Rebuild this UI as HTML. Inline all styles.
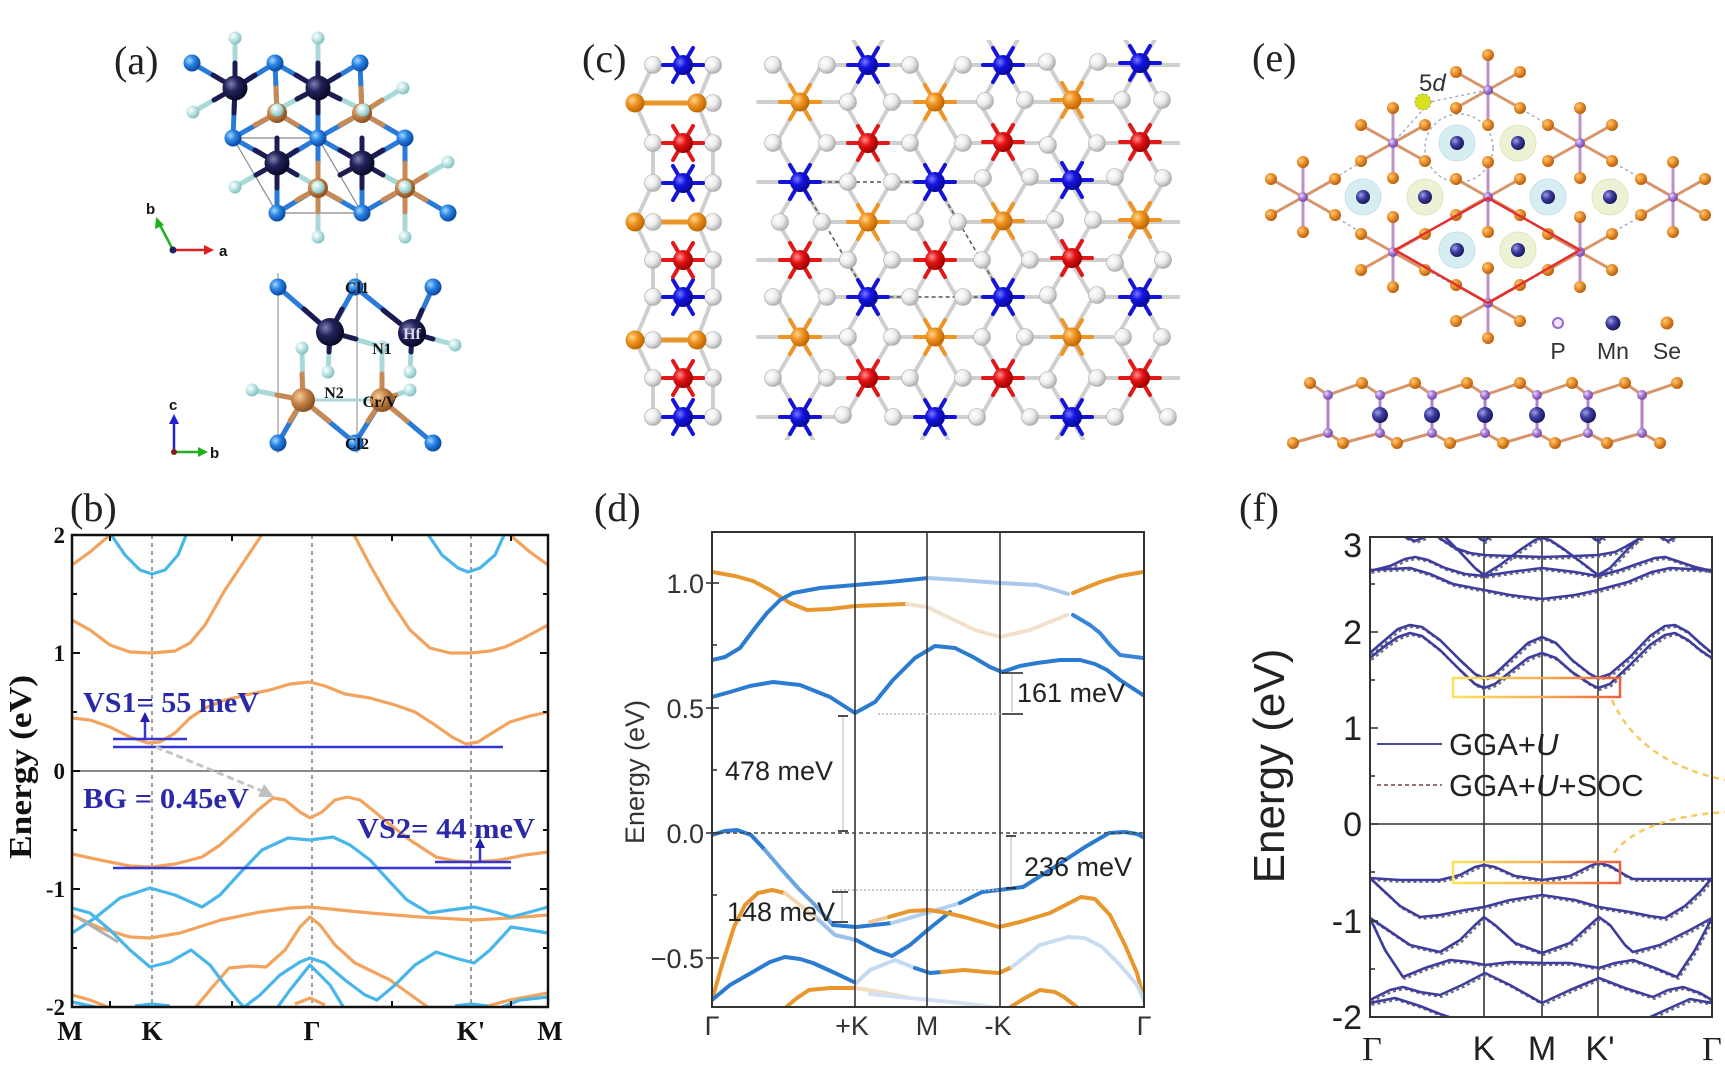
<!DOCTYPE html>
<html><head><meta charset="utf-8"><style>
html,body{margin:0;padding:0;background:#fff;}
svg{display:block;}
.serif{font-family:"Liberation Serif",serif;}
.sans{font-family:"Liberation Sans",sans-serif;}
</style></head><body>
<svg width="1725" height="1081" viewBox="0 0 1725 1081" xmlns="http://www.w3.org/2000/svg" xmlns:xlink="http://www.w3.org/1999/xlink">
<defs>
<radialGradient id="gCl" cx="35%" cy="35%" r="65%"><stop offset="0" stop-color="#a8d8ff"/><stop offset="0.45" stop-color="#2a86e6"/><stop offset="1" stop-color="#0b4aa0"/></radialGradient>
<radialGradient id="gHf" cx="35%" cy="35%" r="65%"><stop offset="0" stop-color="#8080b0"/><stop offset="0.45" stop-color="#22225a"/><stop offset="1" stop-color="#0a0a28"/></radialGradient>
<radialGradient id="gCu" cx="35%" cy="35%" r="65%"><stop offset="0" stop-color="#f6cfa0"/><stop offset="0.5" stop-color="#c6834a"/><stop offset="1" stop-color="#8a5424"/></radialGradient>
<radialGradient id="gN" cx="35%" cy="35%" r="65%"><stop offset="0" stop-color="#ffffff"/><stop offset="0.5" stop-color="#c2e6e6"/><stop offset="1" stop-color="#86c2c2"/></radialGradient>
<radialGradient id="gB" cx="35%" cy="35%" r="65%"><stop offset="0" stop-color="#7a7aff"/><stop offset="0.45" stop-color="#1414e0"/><stop offset="1" stop-color="#08089a"/></radialGradient>
<radialGradient id="gR" cx="35%" cy="35%" r="65%"><stop offset="0" stop-color="#ff9090"/><stop offset="0.45" stop-color="#e41414"/><stop offset="1" stop-color="#a00000"/></radialGradient>
<radialGradient id="gO" cx="35%" cy="35%" r="65%"><stop offset="0" stop-color="#ffd890"/><stop offset="0.45" stop-color="#f09424"/><stop offset="1" stop-color="#c06800"/></radialGradient>
<radialGradient id="gW" cx="35%" cy="35%" r="65%"><stop offset="0" stop-color="#ffffff"/><stop offset="0.55" stop-color="#ececec"/><stop offset="1" stop-color="#b4b4b4"/></radialGradient>
<radialGradient id="gSe" cx="35%" cy="35%" r="65%"><stop offset="0" stop-color="#ffc878"/><stop offset="0.5" stop-color="#ea922c"/><stop offset="1" stop-color="#b86010"/></radialGradient>
<radialGradient id="gMn" cx="35%" cy="35%" r="65%"><stop offset="0" stop-color="#a0a0e0"/><stop offset="0.5" stop-color="#3c3ca0"/><stop offset="1" stop-color="#1a1a60"/></radialGradient>
<radialGradient id="gP" cx="35%" cy="35%" r="65%"><stop offset="0" stop-color="#eedcff"/><stop offset="0.5" stop-color="#a27ad0"/><stop offset="1" stop-color="#7a4aa8"/></radialGradient>
<linearGradient id="gRect" x1="0" y1="0" x2="1" y2="0"><stop offset="0" stop-color="#f8e45a"/><stop offset="0.5" stop-color="#f6b050"/><stop offset="1" stop-color="#ee6040"/></linearGradient>
<clipPath id="cb"><rect x="72" y="535" width="476" height="472"/></clipPath>
<clipPath id="cd"><rect x="712" y="532" width="432" height="475"/></clipPath>
<clipPath id="cf"><rect x="1370" y="537" width="342" height="480"/></clipPath>

<g id="armsGray" stroke="#cfcfcf" stroke-width="4" stroke-linecap="round">
<line x1="0" y1="0" x2="42" y2="0"/><line x1="0" y1="0" x2="-42" y2="0"/>
<line x1="0" y1="0" x2="21" y2="36"/><line x1="0" y1="0" x2="-21" y2="36"/>
<line x1="0" y1="0" x2="21" y2="-36"/><line x1="0" y1="0" x2="-21" y2="-36"/>
</g>
<g id="armsC" stroke-width="4" stroke-linecap="round">
<line x1="0" y1="0" x2="20" y2="0"/><line x1="0" y1="0" x2="-20" y2="0"/>
<line x1="0" y1="0" x2="10" y2="17"/><line x1="0" y1="0" x2="-10" y2="17"/>
<line x1="0" y1="0" x2="10" y2="-17"/><line x1="0" y1="0" x2="-10" y2="-17"/>
</g>
<g id="mB"><use xlink:href="#armsC" stroke="#1414d8"/><circle r="10" fill="url(#gB)"/></g>
<g id="mR"><use xlink:href="#armsC" stroke="#e01818"/><circle r="10" fill="url(#gR)"/></g>
<g id="mO"><use xlink:href="#armsC" stroke="#f09424"/><circle r="9.5" fill="url(#gO)"/></g>
<circle id="wt" r="8.5" fill="url(#gW)" stroke="#aaa" stroke-width="0.6"/>

<g id="pstar">
<g stroke-width="3" stroke-linecap="round">
<line x1="0" y1="0" x2="0" y2="-35" stroke="#c090c8"/><line x1="0" y1="0" x2="0" y2="35" stroke="#c090c8"/>
<line x1="0" y1="0" x2="-32" y2="-18" stroke="#d8946a"/><line x1="0" y1="0" x2="32" y2="-18" stroke="#d8946a"/>
<line x1="0" y1="0" x2="-32" y2="18" stroke="#d8946a"/><line x1="0" y1="0" x2="32" y2="18" stroke="#d8946a"/>
</g>
<circle cx="0" cy="-35" r="6" fill="url(#gSe)"/><circle cx="0" cy="35" r="6" fill="url(#gSe)"/>
<circle cx="-32" cy="-18" r="6" fill="url(#gSe)"/><circle cx="32" cy="-18" r="6" fill="url(#gSe)"/>
<circle cx="-32" cy="18" r="6" fill="url(#gSe)"/><circle cx="32" cy="18" r="6" fill="url(#gSe)"/>
<circle r="5" fill="url(#gP)"/>
</g>

<g id="fb" fill="none" stroke-linejoin="round">
<polyline points="1370,653 1385,640 1398,629 1410,625 1422,627 1440,640 1460,660 1475,674 1484,678 1495,674 1510,660 1528,643 1542,637 1556,643 1572,660 1590,674 1598,678 1610,674 1630,657 1650,636 1665,626 1675,625 1688,632 1700,643 1712,653"/>
<polyline points="1370,658 1385,646 1398,637 1410,633 1422,636 1440,650 1460,670 1475,684 1484,688 1495,684 1510,672 1528,658 1542,653 1556,658 1572,672 1590,684 1598,688 1610,684 1630,665 1650,645 1665,635 1675,633 1688,640 1700,650 1712,658"/>
<polyline points="1370,570 1390,569 1410,568 1430,574 1453,584 1484,590 1510,595 1542,599 1575,595 1598,590 1628,582 1652,572 1670,568 1690,569 1712,570"/>
<polyline points="1370,571 1390,566 1405,559 1415,557 1428,560 1445,568 1465,574 1484,576 1510,572 1542,568 1575,572 1598,576 1620,570 1640,563 1655,558 1665,557 1680,562 1695,567 1712,571"/>
<polyline points="1438,537 1455,548 1470,553 1484,555 1510,556 1542,557 1575,556 1598,555 1615,552 1625,547 1642,537"/>
<polyline points="1445,537 1460,552 1475,568 1484,575 1500,565 1520,550 1535,540 1542,538 1550,540 1565,550 1585,565 1598,575 1610,568 1625,552 1640,537"/>
<polyline points="1405,537 1415,541 1425,537"/>
<polyline points="1478,537 1484,541 1490,537"/>
<polyline points="1592,537 1598,541 1604,537"/>
<polyline points="1660,537 1668,541 1676,537"/>
<polyline points="1370,878 1400,880 1440,880 1460,875 1475,867 1484,865 1495,867 1515,876 1542,880 1570,876 1590,866 1599,863 1610,866 1625,875 1633,879 1670,879 1712,879"/>
<polyline points="1370,878 1385,892 1400,906 1420,917 1440,915 1465,910 1484,907 1510,900 1542,895 1575,900 1599,907 1630,912 1650,916 1665,918 1685,906 1700,892 1712,878"/>
<polyline points="1370,918 1385,928 1410,945 1440,952 1460,940 1475,925 1484,917 1495,925 1515,943 1542,953 1570,943 1590,925 1599,917 1610,925 1625,945 1633,952 1660,945 1690,930 1712,918"/>
<polyline points="1370,918 1385,950 1403,977 1425,968 1450,960 1470,962 1485,965 1510,962 1542,963 1570,963 1599,968 1615,963 1633,960 1655,968 1677,977 1695,950 1712,918"/>
<polyline points="1370,1000 1390,990 1403,987 1420,992 1440,995 1462,985 1485,973 1510,985 1542,1003 1570,990 1599,978 1625,988 1653,997 1668,990 1683,987 1700,993 1712,1000"/>
<polyline points="1370,1003 1395,998 1420,1006 1440,1014 1452,1018"/>
<polyline points="1648,1018 1670,1008 1690,999 1712,1003"/>
</g>
</defs>

<rect width="1725" height="1081" fill="#fff"/>

<!-- ================= (a) ================= -->
<text x="114" y="74" class="serif" font-size="40" fill="#222">(a)</text>
<g stroke-linecap="round">
<polygon points="233,138 318,138 362,213 277,213" fill="none" stroke="#888" stroke-width="1.2"/>
<g stroke="#2a7ad8" stroke-width="5">
<line x1="235" y1="88" x2="192" y2="63"/><line x1="235" y1="88" x2="275" y2="63"/><line x1="235" y1="88" x2="233" y2="138"/>
<line x1="318" y1="88" x2="275" y2="63"/><line x1="318" y1="88" x2="360" y2="63"/><line x1="318" y1="88" x2="318" y2="138"/>
<line x1="277" y1="163" x2="233" y2="138"/><line x1="277" y1="163" x2="318" y2="138"/><line x1="277" y1="163" x2="277" y2="213"/>
<line x1="362" y1="163" x2="318" y2="138"/><line x1="362" y1="163" x2="405" y2="138"/><line x1="362" y1="163" x2="362" y2="213"/>
<line x1="277" y1="113" x2="233" y2="138"/><line x1="277" y1="113" x2="318" y2="138"/><line x1="277" y1="113" x2="275" y2="63"/>
<line x1="362" y1="113" x2="318" y2="138"/><line x1="362" y1="113" x2="405" y2="138"/><line x1="362" y1="113" x2="360" y2="63"/>
<line x1="318" y1="188" x2="277" y2="213"/><line x1="318" y1="188" x2="362" y2="213"/><line x1="318" y1="188" x2="318" y2="138"/>
<line x1="405" y1="188" x2="362" y2="213"/><line x1="405" y1="188" x2="448" y2="213"/><line x1="405" y1="188" x2="405" y2="138"/>
</g>
<g stroke="#a8d8d8" stroke-width="5">
<line x1="235" y1="88" x2="235" y2="38"/><line x1="235" y1="88" x2="193" y2="112"/>
<line x1="318" y1="88" x2="318" y2="38"/><line x1="318" y1="88" x2="363" y2="110"/><line x1="318" y1="88" x2="277" y2="110"/>
<line x1="277" y1="163" x2="235" y2="187"/><line x1="277" y1="163" x2="318" y2="187"/>
<line x1="362" y1="163" x2="405" y2="187"/><line x1="362" y1="113" x2="403" y2="88"/>
<line x1="318" y1="188" x2="318" y2="237"/><line x1="405" y1="188" x2="448" y2="162"/><line x1="405" y1="188" x2="405" y2="237"/>
</g>
<g stroke="#1c1c50" stroke-width="5">
<line x1="235" y1="88" x2="213" y2="75"/><line x1="235" y1="88" x2="255" y2="75"/><line x1="235" y1="88" x2="234" y2="113"/><line x1="235" y1="88" x2="235" y2="63"/><line x1="235" y1="88" x2="214" y2="100"/>
<line x1="318" y1="88" x2="296" y2="75"/><line x1="318" y1="88" x2="339" y2="75"/><line x1="318" y1="88" x2="318" y2="113"/><line x1="318" y1="88" x2="318" y2="63"/><line x1="318" y1="88" x2="340" y2="99"/><line x1="318" y1="88" x2="297" y2="99"/>
<line x1="277" y1="163" x2="255" y2="150"/><line x1="277" y1="163" x2="297" y2="150"/><line x1="277" y1="163" x2="277" y2="188"/><line x1="277" y1="163" x2="256" y2="175"/><line x1="277" y1="163" x2="297" y2="175"/><line x1="277" y1="163" x2="277" y2="138"/>
<line x1="362" y1="163" x2="340" y2="150"/><line x1="362" y1="163" x2="383" y2="150"/><line x1="362" y1="163" x2="362" y2="188"/><line x1="362" y1="163" x2="340" y2="175"/><line x1="362" y1="163" x2="383" y2="175"/><line x1="362" y1="163" x2="362" y2="138"/>
</g>
<g stroke="#c88a55" stroke-width="5">
<line x1="277" y1="113" x2="255" y2="125"/><line x1="277" y1="113" x2="297" y2="125"/><line x1="277" y1="113" x2="276" y2="88"/>
<line x1="362" y1="113" x2="340" y2="125"/><line x1="362" y1="113" x2="383" y2="125"/><line x1="362" y1="113" x2="361" y2="88"/><line x1="362" y1="113" x2="382" y2="100"/>
<line x1="318" y1="188" x2="297" y2="200"/><line x1="318" y1="188" x2="340" y2="200"/><line x1="318" y1="188" x2="318" y2="163"/><line x1="318" y1="188" x2="318" y2="212"/>
<line x1="405" y1="188" x2="383" y2="200"/><line x1="405" y1="188" x2="426" y2="200"/><line x1="405" y1="188" x2="405" y2="163"/><line x1="405" y1="188" x2="426" y2="175"/><line x1="405" y1="188" x2="405" y2="212"/>
</g>
</g>
<g>
<circle cx="277" cy="113" r="10" fill="url(#gCu)"/><circle cx="362" cy="113" r="10" fill="url(#gCu)"/><circle cx="318" cy="188" r="10" fill="url(#gCu)"/><circle cx="405" cy="188" r="10" fill="url(#gCu)"/>
<circle cx="235" cy="38" r="6.5" fill="url(#gN)"/><circle cx="318" cy="38" r="6.5" fill="url(#gN)"/><circle cx="193" cy="112" r="6.5" fill="url(#gN)"/><circle cx="277" cy="110" r="6.5" fill="url(#gN)"/><circle cx="363" cy="110" r="6.5" fill="url(#gN)"/><circle cx="403" cy="88" r="6.5" fill="url(#gN)"/><circle cx="235" cy="187" r="6.5" fill="url(#gN)"/><circle cx="318" cy="187" r="6.5" fill="url(#gN)"/><circle cx="405" cy="187" r="6.5" fill="url(#gN)"/><circle cx="448" cy="162" r="6.5" fill="url(#gN)"/><circle cx="318" cy="237" r="6.5" fill="url(#gN)"/><circle cx="405" cy="237" r="6.5" fill="url(#gN)"/>
<circle cx="192" cy="63" r="8.5" fill="url(#gCl)"/><circle cx="275" cy="63" r="8.5" fill="url(#gCl)"/><circle cx="360" cy="63" r="8.5" fill="url(#gCl)"/><circle cx="233" cy="138" r="8.5" fill="url(#gCl)"/><circle cx="318" cy="138" r="8.5" fill="url(#gCl)"/><circle cx="405" cy="138" r="8.5" fill="url(#gCl)"/><circle cx="277" cy="213" r="8.5" fill="url(#gCl)"/><circle cx="362" cy="213" r="8.5" fill="url(#gCl)"/><circle cx="448" cy="213" r="8.5" fill="url(#gCl)"/>
<circle cx="235" cy="88" r="12.5" fill="url(#gHf)"/><circle cx="318" cy="88" r="12.5" fill="url(#gHf)"/><circle cx="277" cy="163" r="12.5" fill="url(#gHf)"/><circle cx="362" cy="163" r="12.5" fill="url(#gHf)"/>
</g>
<g stroke-width="2.5">
<line x1="173" y1="250" x2="160" y2="225" stroke="#20b020"/><polygon points="156,217 155,229 164,225" fill="#20b020"/>
<line x1="173" y1="250" x2="205" y2="250" stroke="#e02020"/><polygon points="214,250 204,245 204,255" fill="#e02020"/>
<circle cx="173" cy="250" r="3.5" fill="#202060"/>
</g>
<text x="146" y="214" class="sans" font-size="15" font-weight="bold" fill="#111">b</text>
<text x="219" y="256" class="sans" font-size="15" font-weight="bold" fill="#111">a</text>

<g stroke="#999" stroke-width="1.2"><line x1="278" y1="273" x2="278" y2="453"/><line x1="357" y1="273" x2="357" y2="453"/></g>
<g stroke-width="5" stroke-linecap="round">
<g stroke="#2a7ad8">
<line x1="278" y1="287" x2="330" y2="332"/><line x1="355" y1="287" x2="330" y2="332"/><line x1="355" y1="287" x2="412" y2="333"/><line x1="433" y1="287" x2="412" y2="333"/>
<line x1="303" y1="400" x2="278" y2="443"/><line x1="303" y1="400" x2="355" y2="443"/><line x1="382" y1="400" x2="355" y2="443"/><line x1="382" y1="400" x2="433" y2="443"/>
</g>
<g stroke="#a8d8d8">
<line x1="330" y1="332" x2="328" y2="372"/><line x1="330" y1="332" x2="382" y2="347"/><line x1="412" y1="333" x2="455" y2="345"/><line x1="412" y1="333" x2="410" y2="372"/>
<line x1="303" y1="400" x2="302" y2="348"/><line x1="303" y1="400" x2="252" y2="390"/><line x1="382" y1="400" x2="382" y2="347"/><line x1="382" y1="400" x2="410" y2="390"/>
<line x1="303" y1="400" x2="382" y2="400" stroke-width="3"/>
</g>
<g stroke="#1c1c50">
<line x1="330" y1="332" x2="304" y2="309"/><line x1="330" y1="332" x2="342" y2="309"/><line x1="412" y1="333" x2="383" y2="310"/><line x1="412" y1="333" x2="422" y2="310"/>
<line x1="330" y1="332" x2="329" y2="352"/><line x1="330" y1="332" x2="356" y2="339"/><line x1="412" y1="333" x2="433" y2="339"/><line x1="412" y1="333" x2="411" y2="352"/>
</g>
<g stroke="#c88a55">
<line x1="303" y1="400" x2="290" y2="421"/><line x1="303" y1="400" x2="329" y2="421"/><line x1="382" y1="400" x2="368" y2="421"/><line x1="382" y1="400" x2="407" y2="421"/>
<line x1="303" y1="400" x2="302" y2="374"/><line x1="303" y1="400" x2="277" y2="395"/><line x1="382" y1="400" x2="382" y2="374"/><line x1="382" y1="400" x2="396" y2="395"/>
</g>
</g>
<g>
<circle cx="302" cy="348" r="6.5" fill="url(#gN)"/><circle cx="328" cy="372" r="6.5" fill="url(#gN)"/><circle cx="382" cy="347" r="6.5" fill="url(#gN)"/><circle cx="410" cy="372" r="6.5" fill="url(#gN)"/><circle cx="252" cy="390" r="6.5" fill="url(#gN)"/><circle cx="410" cy="390" r="6.5" fill="url(#gN)"/><circle cx="455" cy="345" r="6.5" fill="url(#gN)"/>
<circle cx="278" cy="287" r="8.5" fill="url(#gCl)"/><circle cx="433" cy="287" r="8.5" fill="url(#gCl)"/><circle cx="355" cy="287" r="8.5" fill="url(#gCl)"/><circle cx="278" cy="443" r="8.5" fill="url(#gCl)"/><circle cx="433" cy="443" r="8.5" fill="url(#gCl)"/><circle cx="355" cy="443" r="8.5" fill="url(#gCl)"/>
<circle cx="330" cy="332" r="14" fill="url(#gHf)"/><circle cx="412" cy="333" r="14" fill="url(#gHf)"/>
<circle cx="303" cy="400" r="12" fill="url(#gCu)"/><circle cx="382" cy="400" r="12" fill="url(#gCu)"/>
</g>
<g class="serif" font-size="16" font-weight="bold" text-anchor="middle" fill="#111">
<text x="357" y="293">Cl1</text>
<text x="412" y="339" fill="#d8d8e8">Hf</text>
<text x="382" y="354">N1</text>
<text x="334" y="398">N2</text>
<text x="380" y="407">Cr/V</text>
<text x="357" y="449">Cl2</text>
</g>
<g stroke-width="2.5">
<line x1="174" y1="452" x2="174" y2="423" stroke="#2020d0"/><polygon points="174,414 169,424 179,424" fill="#2020d0"/>
<line x1="174" y1="452" x2="200" y2="452" stroke="#20b020"/><polygon points="208,452 198,447 198,457" fill="#20b020"/>
<circle cx="174" cy="452" r="3" fill="#802020"/>
</g>
<text x="169" y="410" class="sans" font-size="15" font-weight="bold" fill="#111">c</text>
<text x="210" y="458" class="sans" font-size="15" font-weight="bold" fill="#111">b</text>

<!-- ================= (c) ================= -->
<text x="582" y="72" class="serif" font-size="40" fill="#222">(c)</text>
<g stroke="#cfcfcf" stroke-width="4" fill="none" stroke-linejoin="round">
<polyline points="653,65 635,103 653,143 653,183 635,222 653,260 653,297 635,340 653,378 653,417"/>
<polyline points="713,65 697,103 713,143 713,183 697,222 713,260 713,297 697,340 713,378 713,417"/>
<line x1="653" y1="65" x2="713" y2="65"/><line x1="653" y1="143" x2="713" y2="143"/><line x1="653" y1="183" x2="713" y2="183"/><line x1="653" y1="260" x2="713" y2="260"/><line x1="653" y1="297" x2="713" y2="297"/><line x1="653" y1="378" x2="713" y2="378"/><line x1="653" y1="417" x2="713" y2="417"/>
</g>
<g stroke="#e8962a" stroke-width="5"><line x1="635" y1="103" x2="697" y2="103"/><line x1="635" y1="222" x2="697" y2="222"/><line x1="635" y1="340" x2="697" y2="340"/></g>
<g>
<use xlink:href="#wt" x="653" y="65"/><use xlink:href="#wt" x="713" y="65"/>
<use xlink:href="#wt" x="713" y="103"/>
<use xlink:href="#wt" x="653" y="143"/><use xlink:href="#wt" x="713" y="143"/>
<use xlink:href="#wt" x="653" y="183"/><use xlink:href="#wt" x="713" y="183"/>
<use xlink:href="#wt" x="653" y="222"/><use xlink:href="#wt" x="713" y="222"/>
<use xlink:href="#wt" x="653" y="260"/><use xlink:href="#wt" x="713" y="260"/>
<use xlink:href="#wt" x="653" y="297"/><use xlink:href="#wt" x="713" y="297"/>
<use xlink:href="#wt" x="653" y="340"/><use xlink:href="#wt" x="713" y="340"/>
<use xlink:href="#wt" x="653" y="378"/><use xlink:href="#wt" x="713" y="378"/>
<use xlink:href="#wt" x="653" y="417"/><use xlink:href="#wt" x="713" y="417"/>
</g>
<g>
<use xlink:href="#mB" x="683" y="65"/><use xlink:href="#mB" x="683" y="183"/><use xlink:href="#mB" x="683" y="297"/><use xlink:href="#mB" x="683" y="417"/>
<use xlink:href="#mR" x="683" y="143"/><use xlink:href="#mR" x="683" y="260"/><use xlink:href="#mR" x="683" y="378"/>
<circle cx="635" cy="103" r="9.5" fill="url(#gO)"/><circle cx="697" cy="103" r="9.5" fill="url(#gO)"/>
<circle cx="635" cy="222" r="9.5" fill="url(#gO)"/><circle cx="697" cy="222" r="9.5" fill="url(#gO)"/>
<circle cx="635" cy="340" r="9.5" fill="url(#gO)"/><circle cx="697" cy="340" r="9.5" fill="url(#gO)"/>
</g>
<svg x="730" y="40" width="450" height="400" viewBox="730 40 450 400" overflow="hidden">
<g>
<use xlink:href="#armsGray" x="868" y="65"/><use xlink:href="#armsGray" x="1003" y="65"/><use xlink:href="#armsGray" x="1140" y="65"/>
<use xlink:href="#armsGray" x="800" y="102"/><use xlink:href="#armsGray" x="935" y="102"/><use xlink:href="#armsGray" x="1070" y="102"/>
<use xlink:href="#armsGray" x="868" y="143"/><use xlink:href="#armsGray" x="1003" y="143"/><use xlink:href="#armsGray" x="1140" y="143"/>
<use xlink:href="#armsGray" x="800" y="182"/><use xlink:href="#armsGray" x="935" y="182"/><use xlink:href="#armsGray" x="1070" y="182"/>
<use xlink:href="#armsGray" x="868" y="222"/><use xlink:href="#armsGray" x="1003" y="222"/><use xlink:href="#armsGray" x="1140" y="222"/>
<use xlink:href="#armsGray" x="800" y="260"/><use xlink:href="#armsGray" x="935" y="260"/><use xlink:href="#armsGray" x="1070" y="260"/>
<use xlink:href="#armsGray" x="868" y="297"/><use xlink:href="#armsGray" x="1003" y="297"/><use xlink:href="#armsGray" x="1140" y="297"/>
<use xlink:href="#armsGray" x="800" y="337"/><use xlink:href="#armsGray" x="935" y="337"/><use xlink:href="#armsGray" x="1070" y="337"/>
<use xlink:href="#armsGray" x="868" y="378"/><use xlink:href="#armsGray" x="1003" y="378"/><use xlink:href="#armsGray" x="1140" y="378"/>
<use xlink:href="#armsGray" x="800" y="417"/><use xlink:href="#armsGray" x="935" y="417"/><use xlink:href="#armsGray" x="1070" y="417"/>
</g>
<g stroke="#555" stroke-width="1.5" stroke-dasharray="4 3" fill="none">
<polygon points="800,182 935,182 1003,297 868,297"/>
</g>
<g>
<use xlink:href="#wt" x="773" y="65"/><use xlink:href="#wt" x="827" y="65"/><use xlink:href="#wt" x="910" y="65"/><use xlink:href="#wt" x="963" y="65"/><use xlink:href="#wt" x="1047" y="62"/><use xlink:href="#wt" x="1098" y="62"/>
<use xlink:href="#wt" x="848" y="102"/><use xlink:href="#wt" x="892" y="102"/><use xlink:href="#wt" x="985" y="101"/><use xlink:href="#wt" x="1025" y="100"/><use xlink:href="#wt" x="1122" y="100"/><use xlink:href="#wt" x="1162" y="100"/>
<use xlink:href="#wt" x="773" y="143"/><use xlink:href="#wt" x="827" y="143"/><use xlink:href="#wt" x="910" y="143"/><use xlink:href="#wt" x="963" y="143"/><use xlink:href="#wt" x="1048" y="145"/><use xlink:href="#wt" x="1097" y="143"/>
<use xlink:href="#wt" x="848" y="182"/><use xlink:href="#wt" x="892" y="182"/><use xlink:href="#wt" x="983" y="178"/><use xlink:href="#wt" x="1030" y="177"/><use xlink:href="#wt" x="1115" y="177"/><use xlink:href="#wt" x="1163" y="178"/>
<use xlink:href="#wt" x="780" y="222"/><use xlink:href="#wt" x="822" y="222"/><use xlink:href="#wt" x="915" y="222"/><use xlink:href="#wt" x="958" y="222"/><use xlink:href="#wt" x="1055" y="220"/><use xlink:href="#wt" x="1093" y="220"/>
<use xlink:href="#wt" x="848" y="260"/><use xlink:href="#wt" x="892" y="260"/><use xlink:href="#wt" x="982" y="260"/><use xlink:href="#wt" x="1030" y="260"/><use xlink:href="#wt" x="1115" y="263"/><use xlink:href="#wt" x="1163" y="260"/>
<use xlink:href="#wt" x="773" y="297"/><use xlink:href="#wt" x="827" y="297"/><use xlink:href="#wt" x="910" y="297"/><use xlink:href="#wt" x="963" y="297"/><use xlink:href="#wt" x="1048" y="295"/><use xlink:href="#wt" x="1097" y="295"/>
<use xlink:href="#wt" x="848" y="337"/><use xlink:href="#wt" x="892" y="337"/><use xlink:href="#wt" x="982" y="337"/><use xlink:href="#wt" x="1025" y="337"/><use xlink:href="#wt" x="1123" y="337"/><use xlink:href="#wt" x="1162" y="337"/>
<use xlink:href="#wt" x="773" y="378"/><use xlink:href="#wt" x="827" y="378"/><use xlink:href="#wt" x="910" y="378"/><use xlink:href="#wt" x="963" y="378"/><use xlink:href="#wt" x="1048" y="380"/><use xlink:href="#wt" x="1097" y="378"/>
<use xlink:href="#wt" x="843" y="415"/><use xlink:href="#wt" x="893" y="417"/><use xlink:href="#wt" x="977" y="417"/><use xlink:href="#wt" x="1030" y="417"/><use xlink:href="#wt" x="1115" y="417"/><use xlink:href="#wt" x="1168" y="417"/>
</g>
<g>
<use xlink:href="#mB" x="868" y="65"/><use xlink:href="#mB" x="1003" y="65"/><use xlink:href="#mB" x="1140" y="63"/>
<use xlink:href="#mO" x="800" y="102"/><use xlink:href="#mO" x="935" y="102"/><use xlink:href="#mO" x="1072" y="100"/>
<use xlink:href="#mR" x="868" y="143"/><use xlink:href="#mR" x="1003" y="142"/><use xlink:href="#mR" x="1140" y="142"/>
<use xlink:href="#mB" x="800" y="182"/><use xlink:href="#mB" x="935" y="182"/><use xlink:href="#mB" x="1072" y="180"/>
<use xlink:href="#mO" x="868" y="222"/><use xlink:href="#mO" x="1003" y="221"/><use xlink:href="#mO" x="1140" y="220"/>
<use xlink:href="#mR" x="800" y="260"/><use xlink:href="#mR" x="935" y="260"/><use xlink:href="#mR" x="1072" y="258"/>
<use xlink:href="#mB" x="868" y="297"/><use xlink:href="#mB" x="1003" y="297"/><use xlink:href="#mB" x="1140" y="297"/>
<use xlink:href="#mO" x="800" y="337"/><use xlink:href="#mO" x="935" y="337"/><use xlink:href="#mO" x="1072" y="337"/>
<use xlink:href="#mR" x="868" y="378"/><use xlink:href="#mR" x="1003" y="378"/><use xlink:href="#mR" x="1140" y="378"/>
<use xlink:href="#mB" x="800" y="417"/><use xlink:href="#mB" x="935" y="417"/><use xlink:href="#mB" x="1072" y="417"/>
</g>
</svg>

<!-- ================= (e) ================= -->
<text x="1252" y="71" class="serif" font-size="40" fill="#222">(e)</text>
<g fill="none" stroke="#a8aec8" stroke-width="1.5" stroke-dasharray="3 3">
<polygon points="1303,197 1393,143 1430,102 1488,90 1580,143 1673,197 1580,252 1488,303 1393,252"/>
<circle cx="1459" cy="148" r="34"/>
</g>
<g>
<circle cx="1457" cy="143" r="18" fill="#d6eef2" stroke="#c4e2ea"/><circle cx="1363" cy="197" r="18" fill="#d6eef2" stroke="#c4e2ea"/><circle cx="1548" cy="197" r="18" fill="#d6eef2" stroke="#c4e2ea"/><circle cx="1457" cy="250" r="18" fill="#d6eef2" stroke="#c4e2ea"/>
<circle cx="1518" cy="143" r="18" fill="#eef2d4" stroke="#dfe6bc"/><circle cx="1425" cy="197" r="18" fill="#eef2d4" stroke="#dfe6bc"/><circle cx="1610" cy="197" r="18" fill="#eef2d4" stroke="#dfe6bc"/><circle cx="1518" cy="250" r="18" fill="#eef2d4" stroke="#dfe6bc"/>
</g>
<g>
<use xlink:href="#pstar" x="1488" y="90"/><use xlink:href="#pstar" x="1393" y="143"/><use xlink:href="#pstar" x="1580" y="143"/>
<use xlink:href="#pstar" x="1303" y="197"/><use xlink:href="#pstar" x="1488" y="197"/><use xlink:href="#pstar" x="1673" y="197"/>
<use xlink:href="#pstar" x="1393" y="252"/><use xlink:href="#pstar" x="1580" y="252"/><use xlink:href="#pstar" x="1488" y="303"/>
</g>
<g>
<circle cx="1457" cy="143" r="7" fill="url(#gMn)"/><circle cx="1363" cy="197" r="7" fill="url(#gMn)"/><circle cx="1548" cy="197" r="7" fill="url(#gMn)"/><circle cx="1457" cy="250" r="7" fill="url(#gMn)"/>
<circle cx="1518" cy="143" r="7" fill="url(#gMn)"/><circle cx="1425" cy="197" r="7" fill="url(#gMn)"/><circle cx="1610" cy="197" r="7" fill="url(#gMn)"/><circle cx="1518" cy="250" r="7" fill="url(#gMn)"/>
</g>
<polygon points="1395,250 1488,198 1580,250 1488,303" fill="none" stroke="#e23030" stroke-width="2.5"/>
<circle cx="1423" cy="102" r="8" fill="#d8e020" stroke="#a0a840" stroke-width="1" stroke-dasharray="2 2"/>
<text x="1419" y="91" class="sans" font-size="24" fill="#333">5<tspan font-style="italic">d</tspan></text>
<circle cx="1558" cy="323" r="5" fill="#f0e4f8" stroke="#9a6ac8" stroke-width="2"/>
<circle cx="1613" cy="323" r="7.5" fill="url(#gMn)"/>
<circle cx="1667" cy="323" r="6.5" fill="url(#gSe)"/>
<g class="sans" font-size="23" fill="#333" text-anchor="middle">
<text x="1558" y="359">P</text><text x="1613" y="359">Mn</text><text x="1667" y="359">Se</text>
</g>
<g fill="none" stroke-width="3" stroke-linejoin="round">
<polyline stroke="#d8946a" points="1310,383 1328,395 1362,383 1380,395 1415,383 1432,395 1467,383 1485,395 1520,383 1537,395 1572,383 1588,395 1625,383 1642,395 1677,383"/>
<polyline stroke="#d8946a" points="1293,443 1328,433 1343,443 1380,433 1397,443 1432,433 1450,443 1485,433 1503,443 1537,433 1555,443 1588,433 1607,443 1642,433 1660,443"/>
<g stroke="#b080c8"><line x1="1328" y1="395" x2="1328" y2="433"/><line x1="1380" y1="395" x2="1380" y2="433"/><line x1="1432" y1="395" x2="1432" y2="433"/><line x1="1485" y1="395" x2="1485" y2="433"/><line x1="1537" y1="395" x2="1537" y2="433"/><line x1="1588" y1="395" x2="1588" y2="433"/><line x1="1642" y1="395" x2="1642" y2="433"/></g>
</g>
<g>
<circle cx="1380" cy="415" r="8" fill="url(#gMn)"/><circle cx="1432" cy="415" r="8" fill="url(#gMn)"/><circle cx="1485" cy="415" r="8" fill="url(#gMn)"/><circle cx="1537" cy="415" r="8" fill="url(#gMn)"/><circle cx="1588" cy="415" r="8" fill="url(#gMn)"/>
<circle cx="1328" cy="395" r="5" fill="url(#gP)"/><circle cx="1380" cy="395" r="5" fill="url(#gP)"/><circle cx="1432" cy="395" r="5" fill="url(#gP)"/><circle cx="1485" cy="395" r="5" fill="url(#gP)"/><circle cx="1537" cy="395" r="5" fill="url(#gP)"/><circle cx="1588" cy="395" r="5" fill="url(#gP)"/><circle cx="1642" cy="395" r="5" fill="url(#gP)"/>
<circle cx="1328" cy="433" r="5" fill="url(#gP)"/><circle cx="1380" cy="433" r="5" fill="url(#gP)"/><circle cx="1432" cy="433" r="5" fill="url(#gP)"/><circle cx="1485" cy="433" r="5" fill="url(#gP)"/><circle cx="1537" cy="433" r="5" fill="url(#gP)"/><circle cx="1588" cy="433" r="5" fill="url(#gP)"/><circle cx="1642" cy="433" r="5" fill="url(#gP)"/>
<circle cx="1310" cy="383" r="6" fill="url(#gSe)"/><circle cx="1362" cy="383" r="6" fill="url(#gSe)"/><circle cx="1415" cy="383" r="6" fill="url(#gSe)"/><circle cx="1467" cy="383" r="6" fill="url(#gSe)"/><circle cx="1520" cy="383" r="6" fill="url(#gSe)"/><circle cx="1572" cy="383" r="6" fill="url(#gSe)"/><circle cx="1625" cy="383" r="6" fill="url(#gSe)"/><circle cx="1677" cy="383" r="6" fill="url(#gSe)"/>
<circle cx="1293" cy="443" r="6" fill="url(#gSe)"/><circle cx="1343" cy="443" r="6" fill="url(#gSe)"/><circle cx="1397" cy="443" r="6" fill="url(#gSe)"/><circle cx="1450" cy="443" r="6" fill="url(#gSe)"/><circle cx="1503" cy="443" r="6" fill="url(#gSe)"/><circle cx="1555" cy="443" r="6" fill="url(#gSe)"/><circle cx="1607" cy="443" r="6" fill="url(#gSe)"/><circle cx="1660" cy="443" r="6" fill="url(#gSe)"/>
</g>

<!-- ================= (b) ================= -->
<text x="70" y="521" class="serif" font-size="40" fill="#222">(b)</text>
<g clip-path="url(#cb)">
<g stroke="#666" stroke-width="1.3" stroke-dasharray="4 4"><line x1="152" y1="535" x2="152" y2="1007"/><line x1="312" y1="535" x2="312" y2="1007"/><line x1="471" y1="535" x2="471" y2="1007"/></g>
<line x1="72" y1="771" x2="548" y2="771" stroke="#8a8a8a" stroke-width="2"/>
<g fill="none" stroke-width="3.2" stroke-linejoin="round" stroke="#f2a35e">
<polyline points="72,565 90,552 110,535"/>
<polyline points="548,565 530,552 510,535"/>
<polyline points="72,620 90,630 110,645 130,652 152,653 175,651 190,643 205,625 225,590 245,560 263,533"/>
<polyline points="353,533 370,565 390,600 410,630 430,648 450,653 471,653 490,651 505,647 520,640 535,632 548,625"/>
<polyline points="72,718 90,720 110,727 130,737 148,743 160,742 175,733 190,718 205,708 225,700 250,694 270,690 290,684 310,682 325,686 345,694 370,698 395,705 415,712 435,725 452,737 466,744 478,742 492,733 510,722 530,716 548,712"/>
<polyline points="72,854 100,860 130,866 152,867 175,864 202,857 220,845 239,828 258,810 273,798 285,800 300,812 310,818 322,812 335,800 347,797 360,800 375,812 388,823 410,840 436,857 455,861 474,862 500,860 525,855 548,852"/>
<polyline points="72,915 100,928 130,937 150,938 180,933 221,920 260,912 290,908 310,907 340,910 370,913 420,917 474,920 510,918 548,915"/>
<polyline points="195,1008 210,990 229,968 250,966 266,967 285,950 300,927 310,917 320,925 335,945 355,963 390,980 429,1008"/>
<polyline points="295,1004 310,998 325,1005"/>
<polyline points="72,995 90,1000 110,1008"/>
<polyline points="480,1008 510,1000 548,993"/>
</g>
<g fill="none" stroke-width="3.2" stroke-linejoin="round" stroke="#48b6ea">
<polyline points="110,533 125,555 140,570 152,574 165,570 178,555 187,533"/>
<polyline points="427,533 442,555 458,568 468,572 480,568 495,555 505,533"/>
<polyline points="72,933 95,918 120,898 150,888 175,895 202,907 220,895 240,873 262,850 288,838 310,840 333,837 350,845 370,860 390,882 407,900 429,913 450,910 474,907 495,912 511,917 530,912 548,907"/>
<polyline points="72,908 90,913 110,930 130,950 150,967 170,962 191,950 210,965 225,985 240,1003 245,1008"/>
<polyline points="243,1008 260,995 280,975 300,962 310,958 325,963 345,980 365,995 377,1000 395,985 415,965 436,952 455,958 474,963 490,950 511,927 530,930 548,933"/>
<polyline points="277,1008 290,990 310,965 330,985 344,1008"/>
<polyline points="72,1002 100,1008"/>
<polyline points="500,1008 520,1000 548,997"/>
<polyline points="135,1006 152,1004 170,1006"/>
<polyline points="455,1006 471,1004 488,1006"/>
</g>
<line x1="80" y1="919" x2="118" y2="942" stroke="#b0b0b0" stroke-width="3"/>
</g>
<g stroke="#3535d0" stroke-width="2.5">
<line x1="113" y1="747" x2="503" y2="747"/><line x1="113" y1="739" x2="187" y2="739"/>
<line x1="113" y1="868" x2="511" y2="868"/><line x1="435" y1="862" x2="511" y2="862"/>
<line x1="145" y1="740" x2="145" y2="720"/><line x1="480" y1="862" x2="480" y2="846"/>
</g>
<polygon points="145,712 140,722 150,722" fill="#2020b0"/>
<polygon points="480,838 475,848 485,848" fill="#2020b0"/>
<line x1="156" y1="747" x2="262" y2="791" stroke="#c4c4c4" stroke-width="3" stroke-dasharray="7 4"/>
<polygon points="274,797 258,797 264,784" fill="#c0c0c0"/>
<rect x="72" y="535" width="476" height="472" fill="none" stroke="#111" stroke-width="2.5"/>
<g stroke="#111" stroke-width="2">
<line x1="72" y1="653" x2="80" y2="653"/><line x1="72" y1="771" x2="80" y2="771"/><line x1="72" y1="889" x2="80" y2="889"/>
<line x1="72" y1="594" x2="77" y2="594"/><line x1="72" y1="712" x2="77" y2="712"/><line x1="72" y1="830" x2="77" y2="830"/><line x1="72" y1="948" x2="77" y2="948"/>
<line x1="548" y1="653" x2="540" y2="653"/><line x1="548" y1="771" x2="540" y2="771"/><line x1="548" y1="889" x2="540" y2="889"/>
<line x1="548" y1="594" x2="543" y2="594"/><line x1="548" y1="712" x2="543" y2="712"/><line x1="548" y1="830" x2="543" y2="830"/><line x1="548" y1="948" x2="543" y2="948"/>
<line x1="110" y1="1007" x2="110" y2="1001"/><line x1="232" y1="1007" x2="232" y2="1001"/><line x1="392" y1="1007" x2="392" y2="1001"/><line x1="511" y1="1007" x2="511" y2="1001"/>
<line x1="110" y1="535" x2="110" y2="541"/><line x1="232" y1="535" x2="232" y2="541"/><line x1="392" y1="535" x2="392" y2="541"/><line x1="511" y1="535" x2="511" y2="541"/>
</g>
<g class="serif" font-weight="bold" font-size="23" fill="#111" text-anchor="end">
<text x="65" y="543">2</text><text x="65" y="661">1</text><text x="65" y="779">0</text><text x="65" y="897">-1</text><text x="65" y="1015">-2</text>
</g>
<g class="serif" font-weight="bold" font-size="27" fill="#111" text-anchor="middle">
<text x="70" y="1040">M</text><text x="152" y="1040">K</text><text x="312" y="1040">Γ</text><text x="471" y="1040">K'</text><text x="550" y="1040">M</text>
</g>
<text transform="translate(31,767) rotate(-90)" class="serif" font-weight="bold" font-size="32" fill="#111" text-anchor="middle" textLength="184" lengthAdjust="spacingAndGlyphs">Energy (eV)</text>
<g class="serif" font-weight="bold" font-size="28" fill="#2a2aa8">
<text x="83" y="712" textLength="176" lengthAdjust="spacingAndGlyphs">VS1= 55 meV</text>
<text x="83" y="808" textLength="166" lengthAdjust="spacingAndGlyphs">BG = 0.45eV</text>
<text x="357" y="838" textLength="178" lengthAdjust="spacingAndGlyphs">VS2= 44 meV</text>
</g>

<!-- ================= (d) ================= -->
<text x="594" y="521" class="serif" font-size="40" fill="#222">(d)</text>
<g clip-path="url(#cd)">
<g fill="none" stroke-width="4" stroke-linejoin="round" stroke-linecap="round">
<polyline stroke="#e8962e" points="712,572 735,576 753,581 770,590 790,603 807,610 830,609 855,606 880,605 907,604"/>
<polyline stroke="#f3e0cc" points="907,604 927,607 950,618 975,630 1000,637 1030,630 1067,615"/>
<polyline stroke="#e8962e" points="1073,593 1100,582 1120,576 1143,572"/>
<polyline stroke="#2b7bd0" points="712,660 725,657 740,648 755,628 767,613 780,600 793,593 820,588 855,585 890,582 928,578"/>
<polyline stroke="#a9c8ec" points="928,578 960,580 1000,583 1037,585 1055,590 1068,594"/>
<polyline stroke="#3a86d6" points="1073,615 1090,625 1100,633 1110,645 1120,655 1143,658"/>
<polyline stroke="#2b7bd0" points="712,697 730,692 750,686 773,682 800,685 830,697 855,713 875,702 893,680 915,658 935,646 955,648 973,657 990,667 1002,672 1020,666 1037,663 1060,660 1080,660 1095,664 1107,670 1120,680 1143,695"/>
<polyline stroke="#2b7bd0" points="712,835 725,831 737,830 751,835 765,850"/>
<polyline stroke="#6aa4e0" points="765,850 782,870 798,888 813,903 833,925"/>
<polyline stroke="#2b7bd0" points="833,925 856,927 892,923"/>
<polyline stroke="#b4d0ee" points="892,923 930,912 960,903"/>
<polyline stroke="#2b7bd0" points="960,903 982,892 999,890 1023,887 1050,870 1085,847 1109,833 1125,832 1137,834 1145,838"/>
<polyline stroke="#9cc0ea" points="813,915 835,935 856,940"/>
<polyline stroke="#2b7bd0" points="856,940 875,950 892,956 910,945 930,928 950,912"/>
<polyline stroke="#e8962e" points="712,1000 722,965 734,927 745,905 758,893 772,890 785,893"/>
<polyline stroke="#f4d6b4" points="785,893 800,905 815,918"/>
<polyline stroke="#f0c898" points="870,922 889,917"/>
<polyline stroke="#e8962e" points="889,917 910,911 930,910 947,913 964,917 985,923 999,927 1020,922 1050,913 1081,897 1095,899 1110,915 1125,945 1137,973 1145,1003"/>
<polyline stroke="#2b7bd0" points="712,1000 730,985 751,973 770,962 785,957 800,959 813,963 835,973 856,983"/>
<polyline stroke="#c4daf2" points="856,983 870,970 895,960 915,968"/>
<polyline stroke="#2b7bd0" points="915,968 930,973 942,972"/>
<polyline stroke="#e8962e" points="942,972 964,970 985,972 999,973 1012,967"/>
<polyline stroke="#c8dcf2" points="1012,967 1040,945 1068,937 1085,938 1102,947 1120,965 1137,985 1145,1003"/>
<polyline stroke="#e8962e" points="785,1008 797,998 809,990 830,988 856,988"/>
<polyline stroke="#f2dcc4" points="856,988 880,992 910,998"/>
<polyline stroke="#e8962e" points="1009,1008 1025,998 1040,990 1055,992 1064,997 1078,1008"/>
<polyline stroke="#d4e2f4" points="870,994 900,997 930,1000 960,1003 1000,1008"/>
</g>
</g>
<g stroke="#333" stroke-width="1.6">
<line x1="855" y1="532" x2="855" y2="1007"/><line x1="927" y1="532" x2="927" y2="1007"/><line x1="1000" y1="532" x2="1000" y2="1007"/>
</g>
<line x1="712" y1="833" x2="1144" y2="833" stroke="#444" stroke-width="1.5" stroke-dasharray="4 3"/>
<g stroke="#b8b8b8" stroke-width="1.5" stroke-dasharray="2 2">
<line x1="878" y1="714" x2="1023" y2="714"/><line x1="832" y1="890" x2="999" y2="890"/>
</g>
<g stroke="#cfcfcf" stroke-width="1.5">
<line x1="843" y1="717" x2="843" y2="831"/><line x1="1012" y1="674" x2="1012" y2="712"/><line x1="1011" y1="836" x2="1011" y2="888"/><line x1="842" y1="893" x2="842" y2="921"/>
</g>
<g stroke="#222" stroke-width="1.6">
<line x1="838" y1="716" x2="848" y2="716"/><line x1="838" y1="831" x2="848" y2="831"/>
<line x1="1002" y1="673" x2="1023" y2="673"/><line x1="1002" y1="714" x2="1023" y2="714"/>
<line x1="1006" y1="836" x2="1016" y2="836"/><line x1="1006" y1="888" x2="1016" y2="888"/>
<line x1="832" y1="892" x2="848" y2="892"/><line x1="832" y1="922" x2="848" y2="922"/>
</g>
<rect x="712" y="532" width="432" height="475" fill="none" stroke="#333" stroke-width="2"/>
<g stroke="#333" stroke-width="1.6">
<line x1="706" y1="583" x2="719" y2="583"/><line x1="706" y1="708" x2="719" y2="708"/><line x1="706" y1="833" x2="719" y2="833"/><line x1="706" y1="958" x2="719" y2="958"/>
<line x1="712" y1="645" x2="717" y2="645"/><line x1="712" y1="770" x2="717" y2="770"/><line x1="712" y1="895" x2="717" y2="895"/>
</g>
<g class="sans" font-size="27" fill="#333" text-anchor="end">
<text x="704" y="593">1.0</text><text x="704" y="718">0.5</text><text x="704" y="843">0.0</text><text x="704" y="968">−0.5</text>
</g>
<g class="sans" font-size="27" fill="#333" text-anchor="middle">
<text x="712" y="1035">Γ</text><text x="852" y="1035">+K</text><text x="927" y="1035">M</text><text x="998" y="1035">-K</text><text x="1144" y="1035">Γ</text>
</g>
<text transform="translate(644,772) rotate(-90)" class="sans" font-size="27" fill="#333" text-anchor="middle">Energy (eV)</text>
<g class="sans" font-size="27" fill="#222">
<text x="725" y="780">478 meV</text>
<text x="1017" y="702">161 meV</text>
<text x="1024" y="876">236 meV</text>
<text x="727" y="921">148 meV</text>
</g>

<!-- ================= (f) ================= -->
<text x="1239" y="521" class="serif" font-size="40" fill="#222">(f)</text>
<g clip-path="url(#cf)">
<g stroke="#333" stroke-width="1.6">
<line x1="1484" y1="537" x2="1484" y2="1017"/><line x1="1542" y1="537" x2="1542" y2="1017"/><line x1="1598" y1="537" x2="1598" y2="1017"/>
<line x1="1370" y1="824" x2="1712" y2="824"/>
</g>
<use xlink:href="#fb" stroke="#6a6a7a" stroke-width="2" stroke-dasharray="3 3" transform="translate(1.5,2)"/>
<use xlink:href="#fb" stroke="#3d3d9e" stroke-width="2.6"/>
</g>
<rect x="1453" y="678" width="167" height="19" fill="none" stroke="url(#gRect)" stroke-width="2.5"/>
<rect x="1453" y="862" width="167" height="21" fill="none" stroke="url(#gRect)" stroke-width="2.5"/>
<g fill="none" stroke="#f8c860" stroke-width="2.5" stroke-dasharray="6 5">
<path d="M1612,700 Q1640,762 1725,780"/>
<path d="M1614,853 Q1640,818 1725,812"/>
</g>
<rect x="1370" y="537" width="342" height="480" fill="none" stroke="#333" stroke-width="2"/>
<g stroke="#333" stroke-width="1.6">
<line x1="1370" y1="632" x2="1378" y2="632"/><line x1="1370" y1="728" x2="1378" y2="728"/><line x1="1370" y1="824" x2="1378" y2="824"/><line x1="1370" y1="921" x2="1378" y2="921"/>
<line x1="1370" y1="584" x2="1375" y2="584"/><line x1="1370" y1="680" x2="1375" y2="680"/><line x1="1370" y1="776" x2="1375" y2="776"/><line x1="1370" y1="872" x2="1375" y2="872"/><line x1="1370" y1="969" x2="1375" y2="969"/>
</g>
<g class="sans" font-size="34" fill="#222" text-anchor="end">
<text x="1362" y="557">3</text><text x="1362" y="644">2</text><text x="1362" y="740">1</text><text x="1362" y="836">0</text><text x="1362" y="933">-1</text><text x="1362" y="1029">-2</text>
</g>
<g font-size="34" fill="#222" text-anchor="middle">
<text x="1372" y="1060" class="serif">Γ</text>
<text x="1484" y="1060" class="sans">K</text>
<text x="1542" y="1060" class="sans">M</text>
<text x="1600" y="1060" class="sans">K'</text>
<text x="1712" y="1060" class="serif">Γ</text>
</g>
<text transform="translate(1284,766) rotate(-90)" class="sans" font-size="44" fill="#222" text-anchor="middle">Energy (eV)</text>
<line x1="1377" y1="744" x2="1442" y2="744" stroke="#4a4aa8" stroke-width="2"/>
<line x1="1377" y1="785" x2="1442" y2="785" stroke="#9a7070" stroke-width="2" stroke-dasharray="4 3"/>
<g class="sans" font-size="31" fill="#222">
<text x="1449" y="755">GGA+<tspan font-style="italic">U</tspan></text>
<text x="1449" y="796">GGA+<tspan font-style="italic">U</tspan>+SOC</text>
</g>
</svg>
</body></html>
